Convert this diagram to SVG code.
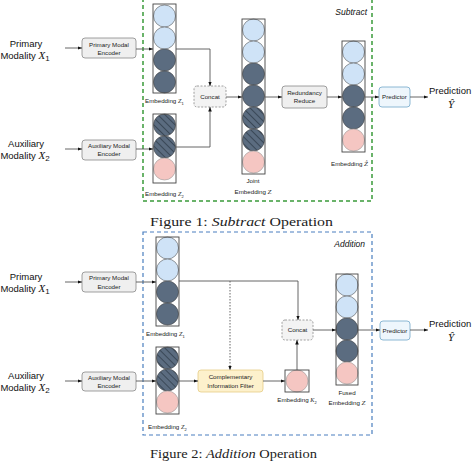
<svg xmlns="http://www.w3.org/2000/svg" width="474" height="462" viewBox="0 0 474 462">
<style>
.lbl{font-family:"Liberation Sans",Arial,sans-serif;fill:#111}
.big{font-size:9.5px}
.sm{font-size:6.2px;fill:#222}
.math{font-family:"Liberation Serif","Times New Roman",serif;font-style:italic}
.box{fill:#efefef;stroke:#888;stroke-width:0.8}
.col{fill:none;stroke:#444;stroke-width:0.9}
.lt{fill:#cfe3f7;stroke:#555;stroke-width:0.6}
.dk{fill:#5b6c80;stroke:#444;stroke-width:0.6}
.ht{fill:url(#hatch);stroke:#444;stroke-width:0.6}
.pk{fill:#f5c6c2;stroke:#999;stroke-width:0.6}
.cn{fill:none;stroke:#555;stroke-width:0.9}
.cap{font-family:"Liberation Serif","Times New Roman",serif;font-size:13.5px;fill:#222}
</style>
<defs>
<marker id="ah" viewBox="0 0 10 10" refX="10" refY="5" markerWidth="5" markerHeight="5" orient="auto-start-reverse"><path d="M0,1 L10,5 L0,9 z" fill="#111"/></marker>
<pattern id="hatch" patternUnits="userSpaceOnUse" width="5" height="5" patternTransform="rotate(-45)"><rect width="5" height="5" fill="#5b6c80"/><line x1="0" y1="0" x2="0" y2="5" stroke="#2c3845" stroke-width="1.4"/></pattern>
</defs>

<!-- Figure 1 -->
<rect x="143" y="-3" width="229" height="204" fill="none" stroke="#3a9a3a" stroke-width="1.5" stroke-dasharray="4 3"/>
<text class="lbl" x="367" y="15" text-anchor="end" font-size="8.5" font-style="italic">Subtract</text>

<g id="f1-primary-input"><text class="lbl big" x="26" y="47" text-anchor="middle">Primary</text><text class="lbl big" x="25" y="59" text-anchor="middle">Modality <tspan class="math" font-size="11">X</tspan><tspan font-size="8" dy="2">1</tspan></text></g>
<g id="f1-aux-input"><text class="lbl big" x="26" y="147" text-anchor="middle">Auxiliary</text><text class="lbl big" x="25" y="159" text-anchor="middle">Modality <tspan class="math" font-size="11">X</tspan><tspan font-size="8" dy="2">2</tspan></text></g>

<g id="f1-primary-encoder"><rect class="box" x="82" y="38" width="54" height="20" rx="3"/><text class="lbl sm" x="109" y="47" text-anchor="middle">Primary Modal</text><text class="lbl sm" x="109" y="55" text-anchor="middle">Encoder</text></g>
<g id="f1-aux-encoder"><rect class="box" x="82" y="140" width="54" height="20" rx="3"/><text class="lbl sm" x="109" y="148" text-anchor="middle">Auxiliary Modal</text><text class="lbl sm" x="109" y="156" text-anchor="middle">Encoder</text></g>

<g id="f1-z1"><circle class="lt" cx="164.5" cy="16" r="11"/><circle class="lt" cx="164.5" cy="38" r="11"/><circle class="dk" cx="164.5" cy="60" r="11"/><circle class="dk" cx="164.5" cy="82" r="11"/><rect class="col" x="153" y="4" width="23" height="89"/><text class="lbl sm" x="145" y="103">Embedding <tspan class="math">Z</tspan><tspan font-size="4" dy="1.5">1</tspan></text></g>
<g id="f1-z2"><circle class="ht" cx="164.5" cy="125" r="11"/><circle class="ht" cx="164.5" cy="147" r="11"/><circle class="pk" cx="164.5" cy="169" r="11"/><rect class="col" x="153" y="114" width="23" height="69"/><text class="lbl sm" x="145" y="196">Embedding <tspan class="math">Z</tspan><tspan font-size="4" dy="1.5">2</tspan></text></g>

<g id="f1-concat"><rect x="194" y="86" width="32" height="21" rx="3" fill="#f3f3f3" stroke="#888" stroke-width="0.8" stroke-dasharray="2 1.5"/><text class="lbl sm" x="210" y="99" text-anchor="middle">Concat</text></g>

<g id="f1-joint"><circle class="lt" cx="253.5" cy="30" r="11"/><circle class="lt" cx="253.5" cy="52" r="11"/><circle class="dk" cx="253.5" cy="74" r="11"/><circle class="dk" cx="253.5" cy="96" r="11"/><circle class="ht" cx="253.5" cy="118" r="11"/><circle class="ht" cx="253.5" cy="140" r="11"/><circle class="pk" cx="253.5" cy="162" r="11"/><rect class="col" x="242" y="19" width="23" height="155"/><text class="lbl sm" x="253" y="183" text-anchor="middle">Joint</text><text class="lbl sm" x="253" y="194" text-anchor="middle">Embedding <tspan class="math" font-size="7">Z</tspan></text></g>

<g id="f1-redundancy"><rect class="box" x="282" y="86" width="45" height="22" rx="3"/><text class="lbl sm" x="304.5" y="95" text-anchor="middle">Redundancy</text><text class="lbl sm" x="304.5" y="103" text-anchor="middle">Reduce</text></g>

<g id="f1-zhat"><circle class="lt" cx="353.5" cy="52" r="11"/><circle class="lt" cx="353.5" cy="74" r="11"/><circle class="dk" cx="353.5" cy="96" r="11"/><circle class="dk" cx="353.5" cy="118" r="11"/><circle class="pk" cx="353.5" cy="140" r="11"/><rect class="col" x="342" y="41" width="23" height="111"/><text class="lbl sm" x="368" y="166" text-anchor="end">Embedding <tspan class="math" font-size="7">Ẑ</tspan></text></g>

<g id="f1-predictor"><rect x="379" y="87" width="31" height="20" rx="3" fill="#eef6fc" stroke="#7fb0cf" stroke-width="0.9"/><text class="lbl sm" x="394.5" y="99" text-anchor="middle">Predictor</text></g>
<g id="f1-prediction"><text class="lbl" font-size="9.5" x="429" y="94">Prediction</text><text class="math" x="448" y="108" font-size="11" fill="#111">Ŷ</text></g>

<g id="f1-connectors">
<path class="cn" d="M65,48 H82" marker-end="url(#ah)"/>
<path class="cn" d="M136,49 H153" marker-end="url(#ah)"/>
<path class="cn" d="M65,149 H82" marker-end="url(#ah)"/>
<path class="cn" d="M136,149 H153" marker-end="url(#ah)"/>
<path class="cn" d="M176,49 H210 V86" marker-end="url(#ah)"/>
<path class="cn" d="M176,147 H210 V107" marker-end="url(#ah)"/>
<path class="cn" d="M226,97 H242" marker-end="url(#ah)"/>
<path class="cn" d="M265,97 H282" marker-end="url(#ah)"/>
<path class="cn" d="M327,97 H342" marker-end="url(#ah)"/>
<path class="cn" d="M365,97 H379" marker-end="url(#ah)"/>
<path class="cn" d="M410,97 H428" marker-end="url(#ah)"/>
</g>

<text class="cap" x="150" y="226" textLength="183" lengthAdjust="spacingAndGlyphs">Figure 1: <tspan font-style="italic">Subtract</tspan> Operation</text>

<!-- Figure 2 -->
<rect x="143" y="232" width="229" height="203" fill="none" stroke="#4a7fbf" stroke-width="1.2" stroke-dasharray="4 3"/>
<text class="lbl" x="365" y="247" text-anchor="end" font-size="8.5" font-style="italic">Addition</text>

<g id="f2-primary-input"><text class="lbl big" x="26" y="280" text-anchor="middle">Primary</text><text class="lbl big" x="25" y="292" text-anchor="middle">Modality <tspan class="math" font-size="11">X</tspan><tspan font-size="8" dy="2">1</tspan></text></g>
<g id="f2-aux-input"><text class="lbl big" x="26" y="379" text-anchor="middle">Auxiliary</text><text class="lbl big" x="25" y="391" text-anchor="middle">Modality <tspan class="math" font-size="11">X</tspan><tspan font-size="8" dy="2">2</tspan></text></g>

<g id="f2-primary-encoder"><rect class="box" x="82" y="272" width="54" height="20" rx="3"/><text class="lbl sm" x="109" y="280" text-anchor="middle">Primary Modal</text><text class="lbl sm" x="109" y="289" text-anchor="middle">Encoder</text></g>
<g id="f2-aux-encoder"><rect class="box" x="82" y="372" width="54" height="19" rx="3"/><text class="lbl sm" x="109" y="380" text-anchor="middle">Auxiliary Modal</text><text class="lbl sm" x="109" y="388" text-anchor="middle">Encoder</text></g>

<g id="f2-z1"><circle class="lt" cx="167.5" cy="248" r="11"/><circle class="lt" cx="167.5" cy="270" r="11"/><circle class="dk" cx="167.5" cy="292" r="11"/><circle class="dk" cx="167.5" cy="314" r="11"/><rect class="col" x="156" y="237" width="23" height="89"/><text class="lbl sm" x="146" y="336">Embedding <tspan class="math">Z</tspan><tspan font-size="4" dy="1.5">1</tspan></text></g>
<g id="f2-z2"><circle class="ht" cx="167.5" cy="358" r="11"/><circle class="ht" cx="167.5" cy="380" r="11"/><circle class="pk" cx="167.5" cy="402" r="11"/><rect class="col" x="156" y="347" width="23" height="67"/><text class="lbl sm" x="148" y="429">Embedding <tspan class="math">Z</tspan><tspan font-size="4" dy="1.5">2</tspan></text></g>

<g id="f2-complementary"><rect x="198" y="370" width="65" height="22" rx="3" fill="#fdf1cc" stroke="#e6cd85" stroke-width="0.8"/><text class="lbl sm" x="230.5" y="379" text-anchor="middle">Complementary</text><text class="lbl sm" x="230.5" y="387.5" text-anchor="middle">Information Filter</text></g>

<g id="f2-k2"><circle class="pk" cx="297" cy="381" r="11"/><rect class="col" x="285" y="370" width="24" height="22"/><text class="lbl sm" x="297" y="402" text-anchor="middle">Embedding <tspan class="math">K</tspan><tspan font-size="4" dy="1.5">2</tspan></text></g>

<g id="f2-concat"><rect x="282" y="320" width="31" height="20" rx="3" fill="#f3f3f3" stroke="#888" stroke-width="0.8" stroke-dasharray="2 1.5"/><text class="lbl sm" x="297.5" y="332" text-anchor="middle">Concat</text></g>

<g id="f2-fused"><circle class="lt" cx="347" cy="285" r="11"/><circle class="lt" cx="347" cy="307" r="11"/><circle class="dk" cx="347" cy="329" r="11"/><circle class="dk" cx="347" cy="351" r="11"/><circle class="pk" cx="347" cy="373" r="11"/><rect class="col" x="336" y="274" width="22" height="111"/><text class="lbl sm" x="347" y="395" text-anchor="middle">Fused</text><text class="lbl sm" x="347" y="405" text-anchor="middle">Embedding <tspan class="math" font-size="7">Z</tspan></text></g>

<g id="f2-predictor"><rect x="380" y="321" width="30" height="19" rx="3" fill="#eef6fc" stroke="#7fb0cf" stroke-width="0.9"/><text class="lbl sm" x="395" y="332.5" text-anchor="middle">Predictor</text></g>
<g id="f2-prediction"><text class="lbl" font-size="9.5" x="429" y="327">Prediction</text><text class="math" x="448" y="341" font-size="11" fill="#111">Ŷ</text></g>

<g id="f2-connectors">
<path class="cn" d="M65,282 H82" marker-end="url(#ah)"/>
<path class="cn" d="M136,282 H156" marker-end="url(#ah)"/>
<path class="cn" d="M65,381 H82" marker-end="url(#ah)"/>
<path class="cn" d="M136,381 H156" marker-end="url(#ah)"/>
<path class="cn" d="M179,281 H298 V320" marker-end="url(#ah)"/>
<path class="cn" d="M230,281 V370" stroke-dasharray="1.5 1.5" marker-end="url(#ah)"/>
<path class="cn" d="M179,381 H198" marker-end="url(#ah)"/>
<path class="cn" d="M263,381 H285" marker-end="url(#ah)"/>
<path class="cn" d="M297,370 V340" marker-end="url(#ah)"/>
<path class="cn" d="M313,330 H336" marker-end="url(#ah)"/>
<path class="cn" d="M358,330 H380" marker-end="url(#ah)"/>
<path class="cn" d="M410,330 H428" marker-end="url(#ah)"/>
</g>

<text class="cap" x="150" y="458" textLength="167" lengthAdjust="spacingAndGlyphs">Figure 2: <tspan font-style="italic">Addition</tspan> Operation</text>
</svg>
